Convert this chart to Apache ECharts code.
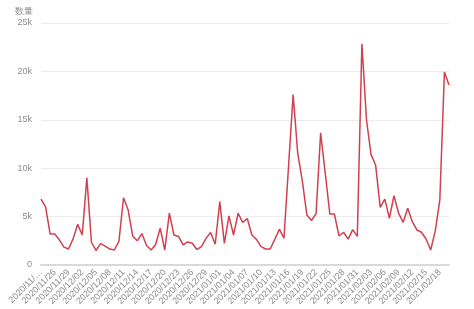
<!DOCTYPE html>
<html><head><meta charset="utf-8">
<script src="https://cdn.jsdelivr.net/npm/echarts@6/dist/echarts.min.js"></script>
<style>html,body{margin:0;padding:0;background:#fff}#c{width:474px;height:309px}</style>
</head><body><div id="c"></div>
<script>
// dates 2020/11/23 .. 2021/02/20
const startDate = [2020, 11, 23];
const dayCount = 90;
const categories = [];
(function(){
  const d = new Date(Date.UTC(startDate[0], startDate[1]-1, startDate[2]));
  for (let i = 0; i < dayCount; i++) {
    const y = d.getUTCFullYear(), m = String(d.getUTCMonth()+1).padStart(2,'0'), dd = String(d.getUTCDate()).padStart(2,'0');
    categories.push(y + '/' + m + '/' + dd);
    d.setUTCDate(d.getUTCDate()+1);
  }
})();
const values = [
  6800, 6000, 3200, 3200, 2600, 1850, 1650, 2700, 4200, 3100,
  9000, 2350, 1500, 2200, 1950, 1650, 1550, 2450, 6950, 5700,
  3000, 2500, 3250, 2050, 1550, 2100, 3800, 1550, 5350, 3100,
  2950, 2070, 2380, 2250, 1600, 1900, 2750, 3350, 2140, 6550,
  2240, 5070, 3100, 5350, 4400, 4800, 3100, 2650, 1900, 1650,
  1650, 2650, 3700, 2760, 10200, 17600, 11550, 8700, 5170, 4600,
  5300, 13650, 9500, 5270, 5270, 3000, 3380, 2680, 3650, 2950,
  22850, 15000, 11400, 10300, 5960, 6800, 4830, 7170, 5350, 4410,
  5860, 4480, 3620, 3380, 2690, 1550, 3500, 6720, 19930, 18600
];
const yAxisName = '数量';
const yTickLabels = ['0', '5k', '10k', '15k', '20k', '25k'];

const chart = echarts.init(document.getElementById('c'), null, {renderer: 'canvas'});
chart.setOption({
  animation: false,
  grid: {left: 41, right: 25, top: 23, bottom: 44},
  xAxis: {
    type: 'category',
    data: categories,
    boundaryGap: false,
    axisLine: {lineStyle: {color: '#d9d9d9', width: 2}},
    axisTick: {show: false},
    axisLabel: {
      interval: 2, rotate: 45, fontSize: 9, color: '#8c8c8c', margin: 6,
      formatter: function (v, i) { return i === 0 ? v.slice(0, 8) + '…' : v; }
    }
  },
  yAxis: {
    type: 'value',
    min: 0, max: 25000, interval: 5000,
    name: yAxisName,
    nameLocation: 'end',
    nameGap: 7,
    nameTextStyle: {color: '#8c8c8c', fontSize: 9, align: 'right', padding: [0, 8, 0, 0]},
    axisLine: {show: false},
    axisTick: {show: false},
    splitLine: {lineStyle: {color: '#ececec'}},
    axisLabel: {
      fontSize: 9, color: '#8c8c8c', margin: 9,
      formatter: function (v) { return yTickLabels[Math.round(v / 5000)]; }
    }
  },
  series: [{
    type: 'line',
    data: values,
    showSymbol: false,
    symbol: 'none',
    lineStyle: {color: '#d04050', width: 1.5},
    itemStyle: {color: '#d04050'}
  }]
});
</script></body></html>
